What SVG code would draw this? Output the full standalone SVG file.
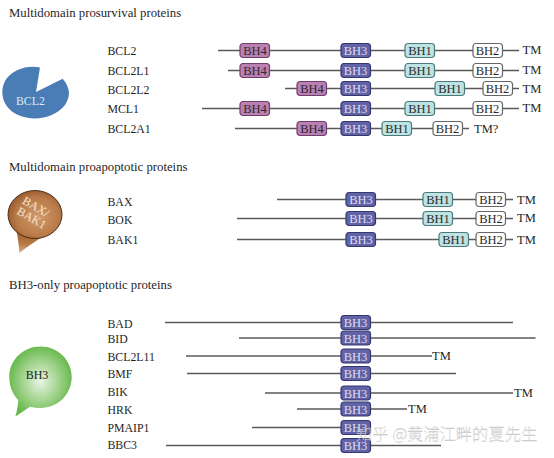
<svg xmlns="http://www.w3.org/2000/svg" width="554" height="458" viewBox="0 0 554 458">
<style>
text{font-family:"Liberation Serif","Times New Roman",serif;font-size:11.8px;fill:#1f1f1f}
.h{font-size:12.75px}
.c{stroke:#5a5a5a;stroke-width:1.3;fill:none}
.d{stroke-width:1.2}
.dt,.tm{font-size:12.5px}
.dt{text-anchor:middle;fill:#2b2b2b}
.b4{fill:#bb7fb3;stroke:#6f4069}
.b3{fill:#6163a6;stroke:#35376f}
.b1{fill:#bee3e3;stroke:#4a7a7d}
.b2{fill:#fff;stroke:#666}
.dt.t3{fill:#dcdcec}
.ic{font-size:11.8px}
.br{fill:#f6e4d2;font-size:12px}
</style>
<defs>
<rect id="b" x="0" y="-7" width="29.5" height="14" rx="3"/>
<radialGradient id="gb" cx="0.55" cy="0.55" r="0.62"><stop offset="0" stop-color="#d29a6c"/><stop offset="0.65" stop-color="#b87a48"/><stop offset="1" stop-color="#8f5226"/></radialGradient>
<linearGradient id="gt" x1="0" y1="0" x2="0" y2="1"><stop offset="0" stop-color="#9c5c2a"/><stop offset="0.6" stop-color="#b5763f"/><stop offset="1" stop-color="#dcae84"/></linearGradient>
<radialGradient id="gg" cx="0.5" cy="0.5" r="0.52"><stop offset="0" stop-color="#eaf4e5"/><stop offset="0.5" stop-color="#a9d795"/><stop offset="1" stop-color="#66b84c"/></radialGradient>
</defs>
<text class="h" x="9" y="17.300">Multidomain prosurvival proteins</text>
<text class="h" x="9" y="170.800">Multidomain proapoptotic proteins</text>
<text class="h" x="9" y="288.500">BH3-only proapoptotic proteins</text>
<g id="connectors">
<path class="c" d="M218 50.500H240M270 50.500H341M370 50.500H405M434 50.500H473M502 50.500H519"/>
<path class="c" d="M228 70.500H240M270 70.500H341M370 70.500H405M434 70.500H473M502 70.500H519"/>
<path class="c" d="M285 88.500H297M326 88.500H341M370 88.500H435M465 88.500H483M512 88.500H519"/>
<path class="c" d="M202 108.500H240M270 108.500H341M370 108.500H405M434 108.500H473M502 108.500H519"/>
<path class="c" d="M235 128.500H297M326 128.500H341M370 128.500H382M412 128.500H433M462 128.500H469"/>
<path class="c" d="M277 199.500H346M376 199.500H423M453 199.500H476M505 199.500H513"/>
<path class="c" d="M237 218.500H346M376 218.500H423M453 218.500H476M505 218.500H513"/>
<path class="c" d="M237 239.500H346M376 239.500H439M469 239.500H476M505 239.500H513"/>
<path class="c" d="M165 322.500H513"/>
<path class="c" d="M239 338H535.500"/>
<path class="c" d="M186 356H432"/>
<path class="c" d="M187 373.500H456"/>
<path class="c" d="M265 393H513"/>
<path class="c" d="M297 409H407"/>
<path class="c" d="M252 427.500H341"/>
<path class="c" d="M166 445.500H441" stroke-width="1.6"/>
</g>
<g id="icon-bcl2"><path d="M40 67.500C28 65 12 69 5 81C-1 93 3 108 18 115C34 122 55 118 65 105C71 96 70 87 62.700 78.700L36 92Z" fill="#4a7cb6"/><text class="ic" x="16" y="105" style="fill:#dce8f5">BCL2</text></g>
<g id="icon-bax"><path d="M16 228L42 237C34 242 26 248 19.300 253C19 246 18 238 16 228Z" fill="url(#gt)"/><ellipse cx="35" cy="214.500" rx="27" ry="24" fill="url(#gb)" stroke="#3f2410" stroke-width="0.9"/><text class="br" transform="translate(21.500 203) rotate(30)">BAX/</text><text class="br" transform="translate(16 213.500) rotate(30)">BAK1</text></g>
<g id="icon-bh3"><path d="M40.500 346.500C58 346.500 71.700 360 71.700 377C71.700 394 58 408 40.500 408C37 408 33.500 407.500 30 406.700C25 410 20 413.500 15.300 416.500C17 411 18 405.500 18.300 400C12.500 394 9.300 386 9.300 377C9.300 360 23 346.500 40.500 346.500Z" fill="url(#gg)"/><text class="ic" x="25.700" y="379" style="fill:#1a2416;font-size:12px">BH3</text></g>
<g id="BCL2"><text x="107.500" y="55">BCL2</text><use href="#b" x="240" y="50.500" class="d b4"/><text class="dt" x="255" y="55">BH4</text><use href="#b" x="341" y="50.500" class="d b3"/><text class="dt t3" x="355.500" y="55">BH3</text><use href="#b" x="405" y="50.500" class="d b1"/><text class="dt" x="420" y="55">BH1</text><use href="#b" x="473" y="50.500" class="d b2"/><text class="dt" x="487.500" y="55">BH2</text><text class="tm" x="522.500" y="54">TM</text></g>
<g id="BCL2L1"><text x="107.500" y="74.500">BCL2L1</text><use href="#b" x="240" y="70.500" class="d b4"/><text class="dt" x="255" y="75">BH4</text><use href="#b" x="341" y="70.500" class="d b3"/><text class="dt t3" x="355.500" y="75">BH3</text><use href="#b" x="405" y="70.500" class="d b1"/><text class="dt" x="420" y="75">BH1</text><use href="#b" x="473" y="70.500" class="d b2"/><text class="dt" x="487.500" y="75">BH2</text><text class="tm" x="522.500" y="74">TM</text></g>
<g id="BCL2L2"><text x="107.500" y="93.700">BCL2L2</text><use href="#b" x="297" y="88.500" class="d b4"/><text class="dt" x="312" y="93">BH4</text><use href="#b" x="341" y="88.500" class="d b3"/><text class="dt t3" x="355.500" y="93">BH3</text><use href="#b" x="435" y="88.500" class="d b1"/><text class="dt" x="450" y="93">BH1</text><use href="#b" x="483" y="88.500" class="d b2"/><text class="dt" x="497.500" y="93">BH2</text><text class="tm" x="522.500" y="92.500">TM</text></g>
<g id="MCL1"><text x="107.500" y="113">MCL1</text><use href="#b" x="240" y="108.500" class="d b4"/><text class="dt" x="255" y="113">BH4</text><use href="#b" x="341" y="108.500" class="d b3"/><text class="dt t3" x="355.500" y="113">BH3</text><use href="#b" x="405" y="108.500" class="d b1"/><text class="dt" x="420" y="113">BH1</text><use href="#b" x="473" y="108.500" class="d b2"/><text class="dt" x="487.500" y="113">BH2</text><text class="tm" x="522.500" y="112">TM</text></g>
<g id="BCL2A1"><text x="107.500" y="133">BCL2A1</text><use href="#b" x="297" y="128.500" class="d b4"/><text class="dt" x="312" y="133">BH4</text><use href="#b" x="341" y="128.500" class="d b3"/><text class="dt t3" x="355.500" y="133">BH3</text><use href="#b" x="382" y="128.500" class="d b1"/><text class="dt" x="397" y="133">BH1</text><use href="#b" x="433" y="128.500" class="d b2"/><text class="dt" x="447.500" y="133">BH2</text><text class="tm" x="474" y="132.500">TM?</text></g>
<g id="BAX"><text x="107.500" y="205.500">BAX</text><use href="#b" x="346" y="199.500" class="d b3"/><text class="dt t3" x="361" y="204">BH3</text><use href="#b" x="423" y="199.500" class="d b1"/><text class="dt" x="438" y="204">BH1</text><use href="#b" x="476" y="199.500" class="d b2"/><text class="dt" x="491" y="204">BH2</text><text class="tm" x="517" y="203.500">TM</text></g>
<g id="BOK"><text x="107.500" y="224">BOK</text><use href="#b" x="346" y="218.500" class="d b3"/><text class="dt t3" x="361" y="223">BH3</text><use href="#b" x="423" y="218.500" class="d b1"/><text class="dt" x="438" y="223">BH1</text><use href="#b" x="476" y="218.500" class="d b2"/><text class="dt" x="491" y="223">BH2</text><text class="tm" x="517" y="221.500">TM</text></g>
<g id="BAK1"><text x="107.500" y="243.500">BAK1</text><use href="#b" x="346" y="239.500" class="d b3"/><text class="dt t3" x="361" y="244">BH3</text><use href="#b" x="439" y="239.500" class="d b1"/><text class="dt" x="454" y="244">BH1</text><use href="#b" x="476" y="239.500" class="d b2"/><text class="dt" x="491" y="244">BH2</text><text class="tm" x="517" y="243.500">TM</text></g>
<g id="BAD"><text x="107.500" y="327.500">BAD</text><use href="#b" x="341" y="322.500" class="d b3"/><text class="dt t3" x="355.500" y="327">BH3</text></g>
<g id="BID"><text x="107.500" y="343">BID</text><use href="#b" x="341" y="338" class="d b3"/><text class="dt t3" x="355.500" y="342.500">BH3</text></g>
<g id="BCL2L11"><text x="107.500" y="360.700">BCL2L11</text><use href="#b" x="341" y="356" class="d b3"/><text class="dt t3" x="355.500" y="360.500">BH3</text><text class="tm" x="432" y="360">TM</text></g>
<g id="BMF"><text x="107.500" y="378">BMF</text><use href="#b" x="341" y="373.500" class="d b3"/><text class="dt t3" x="355.500" y="378">BH3</text></g>
<g id="BIK"><text x="107.500" y="396">BIK</text><use href="#b" x="341" y="393" class="d b3"/><text class="dt t3" x="355.500" y="397.500">BH3</text><text class="tm" x="514" y="397.300">TM</text></g>
<g id="HRK"><text x="107.500" y="414">HRK</text><use href="#b" x="341" y="409" class="d b3"/><text class="dt t3" x="355.500" y="413.500">BH3</text><text class="tm" x="408" y="412.700">TM</text></g>
<g id="PMAIP1"><text x="107.500" y="431.500">PMAIP1</text><use href="#b" x="341" y="427.500" class="d b3"/><text class="dt t3" x="355.500" y="432">BH3</text></g>
<g id="BBC3"><text x="107.500" y="449">BBC3</text><use href="#b" x="341" y="445.500" class="d b3"/><text class="dt t3" x="355.500" y="450">BH3</text></g>
<text x="356" y="439.500" style="font-family:'Noto Sans CJK SC','Liberation Sans',sans-serif;font-size:16.300px;font-weight:300;fill:#fff;fill-opacity:.55;stroke:#b5b5b5;stroke-width:.35;stroke-opacity:.85">知乎 @黄浦江畔的夏先生</text>
</svg>
